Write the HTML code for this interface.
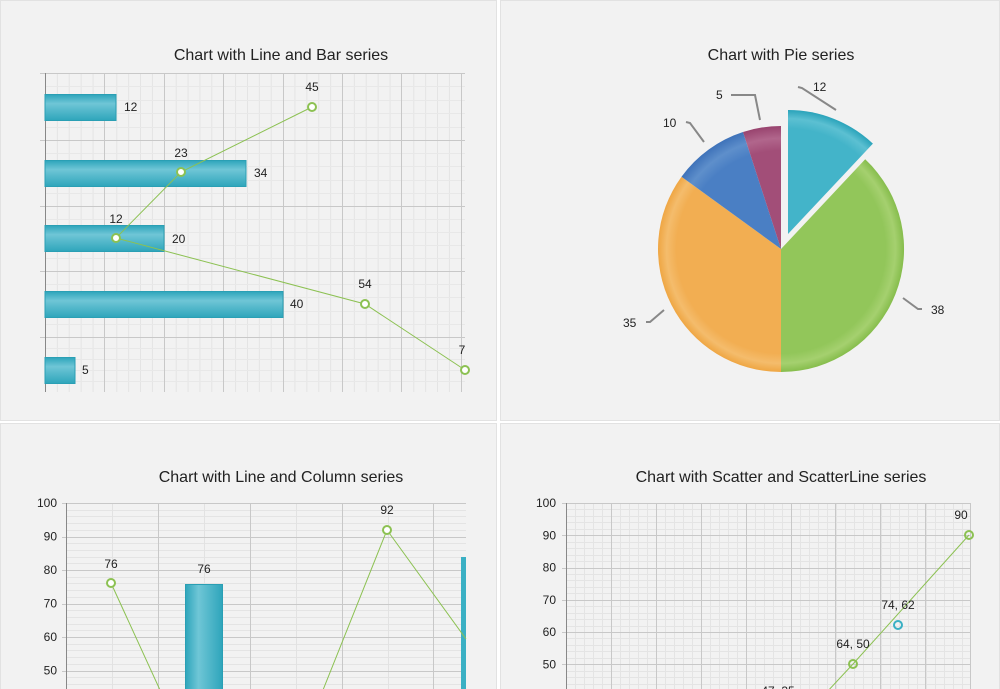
<!DOCTYPE html>
<html><head><meta charset="utf-8"><style>
html,body{margin:0;padding:0;background:#fff;}
svg{display:block;font-family:"Liberation Sans",Arial,sans-serif;}
</style></head><body>
<svg id="s" width="1000" height="689" viewBox="0 0 1000 689" xmlns="http://www.w3.org/2000/svg">
<defs>
<linearGradient id="barH" x1="0" y1="0" x2="0" y2="1"><stop offset="0" stop-color="#2ea5bb"/><stop offset="0.35" stop-color="#6fc6d6"/><stop offset="1" stop-color="#2ea5bb"/></linearGradient>
<linearGradient id="barV" x1="0" y1="0" x2="1" y2="0"><stop offset="0" stop-color="#2ea5bb"/><stop offset="0.35" stop-color="#6fc6d6"/><stop offset="1" stop-color="#2ea5bb"/></linearGradient>
<radialGradient id="gc" cx="788" cy="234" r="124" gradientUnits="userSpaceOnUse"><stop offset="0.85" stop-color="#43b4c9"/><stop offset="0.93" stop-color="#5cc0d2"/><stop offset="1" stop-color="#2aa3ba"/></radialGradient>
<radialGradient id="gg" cx="781" cy="249" r="123" gradientUnits="userSpaceOnUse"><stop offset="0.85" stop-color="#92c65a"/><stop offset="0.93" stop-color="#a5d06f"/><stop offset="1" stop-color="#86bd4c"/></radialGradient>
<radialGradient id="go" cx="781" cy="249" r="123" gradientUnits="userSpaceOnUse"><stop offset="0.85" stop-color="#f2ae52"/><stop offset="0.93" stop-color="#f4bc6c"/><stop offset="1" stop-color="#efa643"/></radialGradient>
<radialGradient id="gb" cx="781" cy="249" r="123" gradientUnits="userSpaceOnUse"><stop offset="0.8" stop-color="#4a7fc4"/><stop offset="0.9" stop-color="#5e8fcb"/><stop offset="1" stop-color="#3e72b9"/></radialGradient>
<radialGradient id="gp" cx="781" cy="249" r="123" gradientUnits="userSpaceOnUse"><stop offset="0.8" stop-color="#a24e78"/><stop offset="0.9" stop-color="#b1668c"/><stop offset="1" stop-color="#98436e"/></radialGradient>
</defs>
<rect width="1000" height="689" fill="#fff"/>
<rect x="0.5" y="0.5" width="496" height="420" fill="#f2f2f2" stroke="#e2e2e2"/>
<rect x="500.5" y="0.5" width="499" height="420" fill="#f2f2f2" stroke="#e2e2e2"/>
<rect x="0.5" y="423.5" width="496" height="270" fill="#f2f2f2" stroke="#e2e2e2"/>
<rect x="500.5" y="423.5" width="499" height="270" fill="#f2f2f2" stroke="#e2e2e2"/>
<g id="grid"></g>
<g font-size="16" fill="#222" text-anchor="middle">
<text x="281" y="60">Chart with Line and Bar series</text>
<text x="781" y="60">Chart with Pie series</text>
<text x="281" y="482">Chart with Line and Column series</text>
<text x="781" y="482">Chart with Scatter and ScatterLine series</text>
</g>
<!-- chart1 bars -->
<g fill="url(#barH)" stroke="#2a9fb4" stroke-width="1">
<rect x="45" y="94.5" width="71" height="26"/>
<rect x="45" y="160.5" width="201" height="26"/>
<rect x="45" y="225.5" width="119" height="26"/>
<rect x="45" y="291.5" width="238" height="26"/>
<rect x="45" y="357.5" width="30" height="26"/>
</g>
<g font-size="12" fill="#222">
<text x="124" y="111">12</text><text x="254" y="177">34</text><text x="172" y="243">20</text><text x="290" y="308">40</text><text x="82" y="374">5</text>
</g>
<polyline points="312,107 181,172 116,238 365,304 465,370" fill="none" stroke="#8cc152" stroke-width="1"/>
<g stroke="#8cc152" stroke-width="2" fill="#fff"><circle cx="312" cy="107" r="4"/><circle cx="181" cy="172" r="4"/><circle cx="116" cy="238" r="4"/><circle cx="365" cy="304" r="4"/><circle cx="465" cy="370" r="4"/></g>
<g font-size="12" fill="#222" text-anchor="middle"><text x="312" y="91">45</text><text x="181" y="157">23</text><text x="116" y="223">12</text><text x="365" y="288">54</text><text x="462" y="354">7</text></g>
<!-- pie -->
<path d="M788,234 L788,110 A124,124 0 0 1 872.9,143.6 Z" fill="url(#gc)"/>
<path d="M781,249 L865.2,159.3 A123,123 0 0 1 781,372 Z" fill="url(#gg)"/>
<path d="M781,249 L781,372 A123,123 0 0 1 681.5,176.7 Z" fill="url(#go)"/>
<path d="M781,249 L681.5,176.7 A123,123 0 0 1 743,132 Z" fill="url(#gb)"/>
<path d="M781,249 L743,132 A123,123 0 0 1 781,126 Z" fill="url(#gp)"/>
<g stroke="#888" stroke-width="2" fill="none">
<polyline points="836,110 802,88 798,87"/>
<polyline points="731,95 755,95 760,120"/>
<polyline points="686,122 690,123 704,142"/>
<polyline points="664,310 650,322 646,322"/>
<polyline points="903,298 918,309 922,309"/>
</g>
<g font-size="12" fill="#222"><text x="813" y="91">12</text><text x="716" y="99">5</text><text x="663" y="127">10</text><text x="623" y="327">35</text><text x="931" y="314">38</text></g>
<!-- chart3 -->
<rect x="185.5" y="584.5" width="37" height="110" fill="url(#barV)" stroke="#2a9fb4"/>
<rect x="461" y="557" width="5" height="140" fill="#3ab0c4"/>
<polyline points="111,583 160,690 323,690 387,530 466,639" fill="none" stroke="#8cc152"/>
<g stroke="#8cc152" stroke-width="2" fill="#fff"><circle cx="111" cy="583" r="4"/><circle cx="387" cy="530" r="4"/></g>
<g font-size="12" fill="#222" text-anchor="middle"><text x="111" y="568">76</text><text x="204" y="573">76</text><text x="387" y="514">92</text></g>
<!-- chart4 -->
<polyline points="826,693 853,664 969,535" fill="none" stroke="#8cc152"/>
<g stroke-width="2" fill="none"><circle cx="853" cy="664" r="4" stroke="#8cc152"/><circle cx="898" cy="625" r="4" stroke="#3ab0c4"/><circle cx="969" cy="535" r="4" stroke="#8cc152"/></g>
<g font-size="12" fill="#222" text-anchor="middle"><text x="853" y="648">64, 50</text><text x="898" y="609">74, 62</text><text x="961" y="519">90</text><text x="778" y="695">47, 35</text></g>
</svg>
<script>
(function(){
var g=document.getElementById('grid'),ns='http://www.w3.org/2000/svg',h='';
function L(x1,y1,x2,y2,c,w){h+='<line x1="'+x1+'" y1="'+y1+'" x2="'+x2+'" y2="'+y2+'" stroke="'+c+'" stroke-width="'+(w||1)+'"/>';}
// chart1
var x0=45,x1=465,y0=73,y1=392,sx=5.94;
for(var v=0;v<=70;v+=2){var x=x0+v*sx+0.5;if(v%10)L(x,y0,x,y1,'#e4e4e4');}
var bands=[73,140,206,271,337,392];
for(var i=0;i<5;i++){for(var k=1;k<5;k++){var y=bands[i]+(bands[i+1]-bands[i])*k/5;L(x0,Math.round(y)+0.5,x1,Math.round(y)+0.5,'#e8e8e8');}}
for(var v=10;v<=70;v+=10){var x=Math.round(x0+v*sx)+0.5;L(x,y0,x,y1,'#c8c8c8');}
for(var i=0;i<5;i++){L(40,bands[i]+0.5,x1,bands[i]+0.5,'#c8c8c8');}
L(45.5,y0,45.5,y1,'#888');
// chart3
var cx0=66,cx1=466,top=503,sy=3.35;
for(var v=0;v<=60;v+=2){var y=Math.round(top+v*sy)+0.5;if(v%10)L(cx0,y,cx1,y,'#e4e4e4');}
[112,204,296,388].forEach(function(x){L(x+0.5,top,x+0.5,689,'#e2e2e2');});
for(var v=0;v<=60;v+=10){var y=Math.round(top+v*sy)+0.5;L(62,y,cx1,y,'#c8c8c8');}
[158,250,342,433].forEach(function(x){L(x+0.5,top,x+0.5,689,'#c8c8c8');});
L(66.5,top,66.5,689,'#888');
// chart4
var dx0=566,dx1=970,sy4=3.225;
for(var x=dx0;x<dx1;x+=9){L(x+0.5,top,x+0.5,689,'#e4e4e4');}
for(var v=0;v<=60;v+=2){var y=Math.round(top+v*sy4)+0.5;if(v%10)L(dx0,y,dx1,y,'#e4e4e4');}
for(var v=0;v<=60;v+=10){var y=Math.round(top+v*sy4)+0.5;L(562,y,dx1,y,'#c8c8c8');}
for(var i=1;i<=9;i++){var x=Math.round(dx0+i*44.9)+0.5;L(x,top,x,689,'#c8c8c8');}
L(566.5,top,566.5,689,'#888');
// y labels
for(var v=100;v>=40;v-=10){var y=top+(100-v)*sy+4;h+='<text x="57" y="'+y+'" font-size="12" fill="#222" text-anchor="end">'+v+'</text>';
var y2=top+(100-v)*sy4+4;h+='<text x="556" y="'+y2+'" font-size="12" fill="#222" text-anchor="end">'+v+'</text>';}
g.innerHTML=h;
})();
</script>
</body></html>
